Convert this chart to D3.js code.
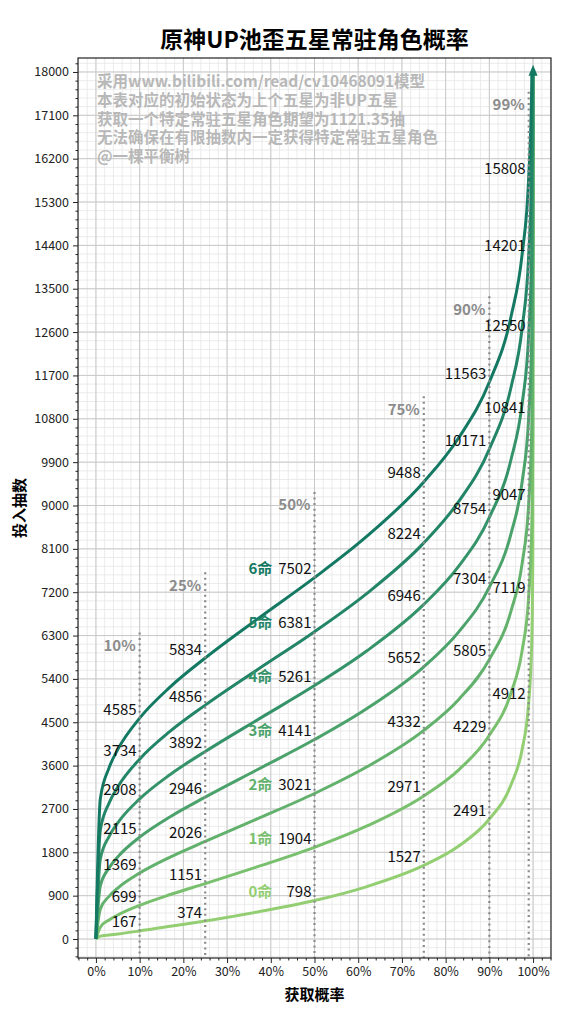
<!DOCTYPE html>
<html>
<head>
<meta charset="utf-8">
<script src="https://cdn.jsdelivr.net/npm/d3@7"></script>
<style>
  body { margin: 0; background: #fff; }
  svg { font-family: "Noto Sans CJK SC", "Noto Sans", sans-serif; }
</style>
</head>
<body>
<svg id="chart"></svg>
<script>
const probs = [0, 1, 3, 5, 10, 17, 25, 37, 50, 62, 75, 83, 90, 95, 97.5, 99, 99.7, 99.95, 99.99999];
const labelProbs = [10, 25, 50, 75, 90, 99];
const cons = ['0命', '1命', '2命', '3命', '4命', '5命', '6命'];
const c0 = [0, 60, 85, 105, 167, 265, 374, 563, 798, 1089, 1527, 1931, 2491, 3212, 3939, 4912, 6199, 8097, 18600];
const c1 = [0, 246, 397, 499, 699, 924, 1151, 1502, 1904, 2347, 2971, 3513, 4229, 5121, 5992, 7119, 8566, 10667, 18600];
const c2 = [0, 624, 886, 1058, 1369, 1702, 2026, 2498, 3021, 3575, 4332, 4974, 5805, 6823, 7799, 9047, 10626, 12879, 18600];
const c3 = [0, 1102, 1474, 1705, 2115, 2540, 2946, 3519, 4141, 4786, 5652, 6377, 7304, 8430, 9494, 10841, 12536, 14924, 18600];
const c4 = [0, 1656, 2127, 2412, 2908, 3416, 3892, 4553, 5261, 5984, 6946, 7742, 8754, 9970, 11114, 12550, 14338, 16837, 18600];
const c5 = [0, 2260, 2821, 3158, 3734, 4315, 4856, 5596, 6381, 7177, 8224, 9085, 10171, 11470, 12684, 14201, 16081, 18692, 19500];
const c6 = [0, 2908, 3553, 3936, 4585, 5234, 5834, 6646, 7502, 8362, 9488, 10407, 11563, 12938, 14217, 15808, 17774, 20508, 21000];
const series = [c0, c1, c2, c3, c4, c5, c6];
const colors = ['#93cf72', '#79c06e', '#62b16c', '#4ba26b', '#35936a', '#238567', '#137962'];
const xTicks = d3.range(0, 101, 10);
const yTicks = d3.range(0, 18001, 900);
const notes = [
  '采用www.bilibili.com/read/cv10468091模型',
  '本表对应的初始状态为上个五星为非UP五星',
  '获取一个特定常驻五星角色期望为1121.35抽',
  '无法确保在有限抽数内一定获得特定常驻五星角色',
  '@一棵平衡树'
];

const width = 585, height = 1024;
const plotL = 78, plotR = 551, plotT = 58, plotB = 958;

const svg = d3.select('#chart').attr('width', width).attr('height', height);

const x = d3.scaleLinear().domain([-4.1, 104.1]).range([plotL, plotR]);
const y = d3.scaleLinear().domain([-394, 18290]).range([plotB, plotT]);

// title
svg.append('text')
  .attr('x', (plotL + plotR) / 2).attr('y', 38)
  .attr('text-anchor', 'middle').attr('dominant-baseline', 'central')
  .style('font-size', '23px').style('font-weight', 'bold')
  .text('原神UP池歪五星常驻角色概率');

// grid
const grid = svg.append('g');
grid.selectAll('.xminor').data(d3.range(-4, 105, 2)).enter().append('line')
  .attr('x1', d => x(d)).attr('x2', d => x(d)).attr('y1', plotT).attr('y2', plotB)
  .attr('stroke', '#e6e6e6').attr('stroke-width', 0.8);
grid.selectAll('.yminor').data(d3.range(-360, 18290, 180)).enter().append('line')
  .attr('x1', plotL).attr('x2', plotR).attr('y1', d => y(d)).attr('y2', d => y(d))
  .attr('stroke', '#e6e6e6').attr('stroke-width', 0.8);
grid.selectAll('.xmajor').data(xTicks).enter().append('line')
  .attr('x1', d => x(d)).attr('x2', d => x(d)).attr('y1', plotT).attr('y2', plotB)
  .attr('stroke', '#c9c9c9').attr('stroke-width', 1);
grid.selectAll('.ymajor').data(yTicks).enter().append('line')
  .attr('x1', plotL).attr('x2', plotR).attr('y1', d => y(d)).attr('y2', d => y(d))
  .attr('stroke', '#c9c9c9').attr('stroke-width', 1);

// notes
svg.append('g').selectAll('text').data(notes).enter().append('text')
  .attr('x', 97).attr('y', (d, i) => 80 + i * 18.8)
  .attr('dominant-baseline', 'central')
  .style('font-size', '15.5px').style('font-weight', 'bold')
  .attr('fill', '#b8b8b8')
  .text(d => d);

// curves
svg.append('clipPath').attr('id', 'clip').append('rect')
  .attr('x', plotL).attr('y', y(18000)).attr('width', plotR - plotL).attr('height', plotB - y(18000));

const line = d3.line()
  .x((d, i) => x(probs[i]))
  .y(d => y(d))
  .curve(d3.curveMonotoneX);

svg.append('g').attr('clip-path', 'url(#clip)')
  .selectAll('path').data(series).enter().append('path')
  .attr('d', line)
  .attr('fill', 'none')
  .attr('stroke', (d, i) => colors[i])
  .attr('stroke-width', 3);

// arrow head at the top of 6命
const ax = x(100), ay = y(18150);
svg.append('path')
  .attr('d', `M${ax},${ay} L${ax - 4.5},${ay + 11} L${ax + 4.5},${ay + 11} Z`)
  .attr('fill', colors[6]);

// dotted guide lines and percent labels
const guides = svg.append('g');
labelProbs.forEach(p => {
  const i = probs.indexOf(p);
  const topVal = c6[i] + 1780;
  guides.append('line')
    .attr('x1', x(p)).attr('x2', x(p))
    .attr('y1', y(topVal)).attr('y2', plotB)
    .attr('stroke', '#8a8a8a').attr('stroke-width', 2.2)
    .attr('stroke-dasharray', '2,3.6');
  guides.append('text')
    .attr('x', x(p) - 4).attr('y', y(topVal) + 12)
    .attr('text-anchor', 'end').attr('dominant-baseline', 'central')
    .style('font-size', '15px').style('font-weight', 'bold')
    .attr('fill', '#8c8c8c')
    .text(p + '%');
});

// value labels
const labels = svg.append('g');
series.forEach((s, k) => {
  labelProbs.forEach(p => {
    const i = probs.indexOf(p);
    labels.append('text')
      .attr('x', x(p) - 3).attr('y', y(s[i]) - 10)
      .attr('text-anchor', 'end').attr('dominant-baseline', 'central')
      .style('font-size', '15px')
      .attr('fill', '#111')
      .text(s[i]);
    if (p === 50) {
      labels.append('text')
        .attr('x', x(p) - 66).attr('y', y(s[i]) - 10)
        .attr('dominant-baseline', 'central')
        .style('font-size', '15px').style('font-weight', 'bold')
        .attr('fill', colors[k])
        .text(cons[k]);
    }
  });
});

// axes
const xAxis = d3.axisBottom(x).tickValues(xTicks).tickFormat(d => d + '%').tickSize(5).tickPadding(4);
const yAxis = d3.axisLeft(y).tickValues(yTicks).tickFormat(d3.format('d')).tickSize(5).tickPadding(4);

const gx = svg.append('g').attr('transform', `translate(0,${plotB})`).call(xAxis);
const gy = svg.append('g').attr('transform', `translate(${plotL},0)`).call(yAxis);
[gx, gy].forEach(g => {
  g.select('.domain').remove();
  g.selectAll('text').style('font-size', '12.5px').style('font-family', '"Noto Sans CJK SC", sans-serif').attr('fill', '#222');
  g.selectAll('line').attr('stroke', '#222');
});

svg.append('g').attr('transform', `translate(0,${plotB})`)
  .call(d3.axisBottom(x).tickValues(d3.range(-4, 105, 2).filter(d => d % 10 !== 0)).tickSize(2.5).tickFormat(''))
  .call(g => g.select('.domain').remove())
  .selectAll('line').attr('stroke', '#222');
svg.append('g').attr('transform', `translate(${plotL},0)`)
  .call(d3.axisLeft(y).tickValues(d3.range(-360, 18290, 180).filter(d => d % 900 !== 0)).tickSize(2.5).tickFormat(''))
  .call(g => g.select('.domain').remove())
  .selectAll('line').attr('stroke', '#222');

// frame
svg.append('rect')
  .attr('x', plotL).attr('y', plotT).attr('width', plotR - plotL).attr('height', plotB - plotT)
  .attr('fill', 'none').attr('stroke', '#222').attr('stroke-width', 1.2);

// axis titles
svg.append('text')
  .attr('x', (plotL + plotR) / 2).attr('y', 993)
  .attr('text-anchor', 'middle').attr('dominant-baseline', 'central')
  .style('font-size', '15px').style('font-weight', 'bold')
  .text('获取概率');
svg.append('text')
  .attr('transform', `translate(18,${(plotT + plotB) / 2}) rotate(-90)`)
  .attr('text-anchor', 'middle').attr('dominant-baseline', 'central')
  .style('font-size', '15px').style('font-weight', 'bold')
  .text('投入抽数');
</script>
</body>
</html>
